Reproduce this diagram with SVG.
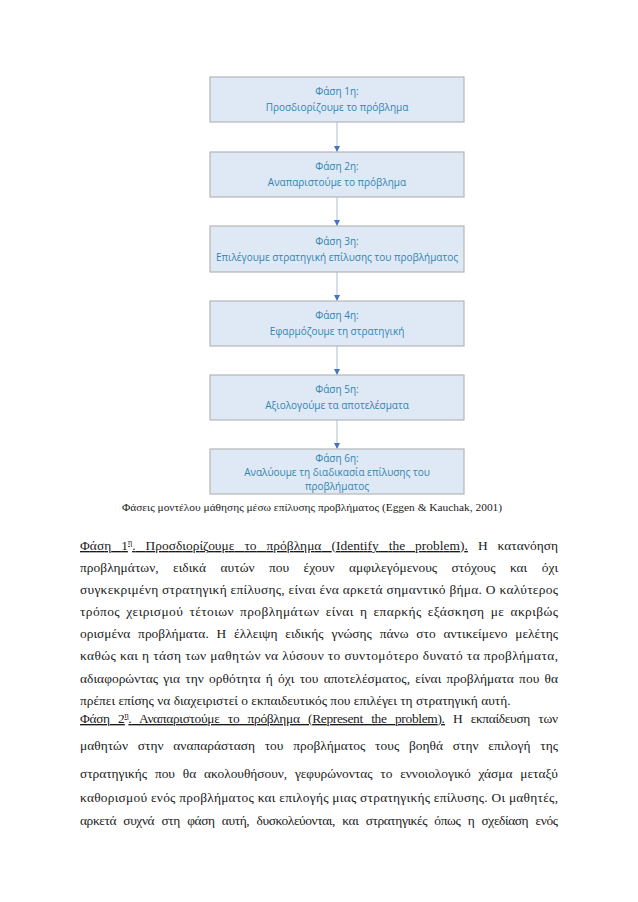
<svg xmlns="http://www.w3.org/2000/svg" width="638" height="902" viewBox="0 0 638 902">
<defs>
<style>
.box{fill:#dfe8f5;stroke:#b4b6b9;stroke-width:1.2}
.bt{font-family:"Open Sans","Noto Sans",sans-serif;font-size:10px;fill:#3186b0;text-anchor:middle}
.conn{stroke:#b9c9e0;stroke-width:1.2;fill:none}
.cap{font-family:"Liberation Serif",serif;font-size:11.4px;fill:#222;text-anchor:middle}
.body{font-family:"Liberation Serif",serif;font-size:13.4px;fill:#1a1a1a}
.u{text-decoration:underline}
</style>
<marker id="arr" markerWidth="6" markerHeight="6" refX="6" refY="3" orient="auto" markerUnits="userSpaceOnUse" viewBox="0 0 6 6">
<path d="M0,0 L6,3 L0,6 Z" fill="#4472c4"/>
</marker>
</defs>
<rect width="638" height="902" fill="#ffffff"/>
<g id="connectors">
<line class="conn" x1="337" y1="122" x2="337" y2="152" marker-end="url(#arr)"/>
<line class="conn" x1="337" y1="197" x2="337" y2="226" marker-end="url(#arr)"/>
<line class="conn" x1="337" y1="272" x2="337" y2="301" marker-end="url(#arr)"/>
<line class="conn" x1="337" y1="346" x2="337" y2="375" marker-end="url(#arr)"/>
<line class="conn" x1="337" y1="420" x2="337" y2="449" marker-end="url(#arr)"/>
</g>
<g id="phase1"><rect class="box" x="210" y="77" width="254" height="45"/><text class="bt" x="337" y="95">Φάση 1η:</text><text class="bt" x="337" y="111">Προσδιορίζουμε το πρόβλημα</text></g>
<g id="phase2"><rect class="box" x="210" y="152" width="254" height="45"/><text class="bt" x="337" y="170">Φάση 2η:</text><text class="bt" x="337" y="186">Αναπαριστούμε το πρόβλημα</text></g>
<g id="phase3"><rect class="box" x="210" y="226" width="254" height="46"/><text class="bt" x="337" y="245">Φάση 3η:</text><text class="bt" x="337" y="261">Επιλέγουμε στρατηγική επίλυσης του προβλήματος</text></g>
<g id="phase4"><rect class="box" x="210" y="301" width="254" height="45"/><text class="bt" x="337" y="319">Φάση 4η:</text><text class="bt" x="337" y="335">Εφαρμόζουμε τη στρατηγική</text></g>
<g id="phase5"><rect class="box" x="210" y="375" width="254" height="45"/><text class="bt" x="337" y="393">Φάση 5η:</text><text class="bt" x="337" y="409">Αξιολογούμε τα αποτελέσματα</text></g>
<g id="phase6"><rect class="box" x="210" y="449" width="254" height="45"/><text class="bt" x="337" y="462">Φάση 6η:</text><text class="bt" x="337" y="476">Αναλύουμε τη διαδικασία επίλυσης του</text><text class="bt" x="337" y="490">προβλήματος</text></g>
<text class="cap" x="312" y="511">Φάσεις μοντέλου μάθησης μέσω επίλυσης προβλήματος (Eggen &amp; Kauchak, 2001)</text>
<g id="body">
<text class="body" x="80" y="550" word-spacing="6.6" textLength="478" lengthAdjust="spacing"><tspan class="u">Φάση 1</tspan><tspan class="u" font-size="8" dy="-5">η</tspan><tspan class="u" dy="5">. Προσδιορίζουμε το πρόβλημα (Identify the problem).</tspan> Η κατανόηση</text>
<text class="body" x="80" y="572" word-spacing="11" textLength="478" lengthAdjust="spacing">προβλημάτων, ειδικά αυτών που έχουν αμφιλεγόμενους στόχους και όχι</text>
<text class="body" x="80" y="594" textLength="478" lengthAdjust="spacing">συγκεκριμένη στρατηγική επίλυσης, είναι ένα αρκετά σημαντικό βήμα. Ο καλύτερος</text>
<text class="body" x="80" y="616" word-spacing="2.4" textLength="478" lengthAdjust="spacing">τρόπος χειρισμού τέτοιων προβλημάτων είναι η επαρκής εξάσκηση με ακριβώς</text>
<text class="body" x="80" y="638" word-spacing="4.4" textLength="478" lengthAdjust="spacing">ορισμένα προβλήματα. Η έλλειψη ειδικής γνώσης πάνω στο αντικείμενο μελέτης</text>
<text class="body" x="80" y="660" textLength="478" lengthAdjust="spacing">καθώς και η τάση των μαθητών να λύσουν το συντομότερο δυνατό τα προβλήματα,</text>
<text class="body" x="80" y="683" word-spacing="1.8" textLength="478" lengthAdjust="spacing">αδιαφορώντας για την ορθότητα ή όχι του αποτελέσματος, είναι προβλήματα που θα</text>
<text class="body" x="80" y="705">πρέπει επίσης να διαχειριστεί ο εκπαιδευτικός που επιλέγει τη στρατηγική αυτή.</text>
<text class="body" x="80" y="723" word-spacing="5.3" textLength="478" lengthAdjust="spacing"><tspan class="u">Φάση 2</tspan><tspan class="u" font-size="8" dy="-5">η</tspan><tspan class="u" dy="5">. Αναπαριστούμε το πρόβλημα (Represent the problem).</tspan> Η εκπαίδευση των</text>
<text class="body" x="80" y="750" word-spacing="6.4" textLength="478" lengthAdjust="spacing">μαθητών στην αναπαράσταση του προβλήματος τους βοηθά στην επιλογή της</text>
<text class="body" x="80" y="778" word-spacing="4.5" textLength="478" lengthAdjust="spacing">στρατηγικής που θα ακολουθήσουν, γεφυρώνοντας το εννοιολογικό χάσμα μεταξύ</text>
<text class="body" x="80" y="802" textLength="478" lengthAdjust="spacing">καθορισμού ενός προβλήματος και επιλογής μιας στρατηγικής επίλυσης. Οι μαθητές,</text>
<text class="body" x="80" y="825" word-spacing="4.4" textLength="478" lengthAdjust="spacing">αρκετά συχνά στη φάση αυτή, δυσκολεύονται, και στρατηγικές όπως η σχεδίαση ενός</text>
</g>
</svg>
